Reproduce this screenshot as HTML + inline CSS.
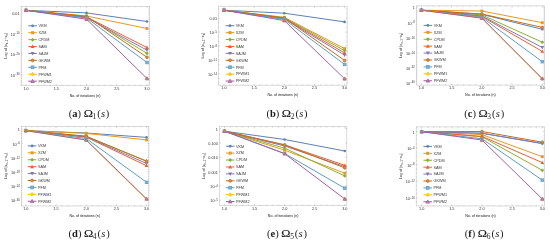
<!DOCTYPE html>
<html><head><meta charset="utf-8"><style>
html,body{margin:0;padding:0;background:#fff;}
svg{display:block;}
.tl{font-family:"Liberation Sans",sans-serif;font-size:3.8px;fill:#333333;}
.ex{font-size:2.8px;}
.al{font-family:"Liberation Sans",sans-serif;font-size:3.6px;fill:#111;}
.sb{font-size:2.7px;}
.yl{font-family:"Liberation Sans",sans-serif;font-size:3.8px;fill:#333333;}
.lg{font-family:"Liberation Sans",sans-serif;font-size:3.75px;fill:#383838;}
.cap{font-family:"Liberation Serif",serif;font-size:10.5px;fill:#1a1a1a;}
.om{font-size:10.5px;stroke:#1a1a1a;stroke-width:0.18px;}
.cs{font-size:7.5px;}
</style></head><body>
<svg width="550" height="245" viewBox="0 0 550 245">
<rect width="550" height="245" fill="#fff"/>
<rect x="21.10" y="6.30" width="128.30" height="79.10" fill="none" stroke="#c4c4c4" stroke-width="0.6"/>
<path d="M26.10,85.40v-1.6M26.10,6.30v1.6M32.15,85.40v-0.9M32.15,6.30v0.9M38.19,85.40v-0.9M38.19,6.30v0.9M44.24,85.40v-0.9M44.24,6.30v0.9M50.28,85.40v-0.9M50.28,6.30v0.9M56.33,85.40v-1.6M56.33,6.30v1.6M62.37,85.40v-0.9M62.37,6.30v0.9M68.42,85.40v-0.9M68.42,6.30v0.9M74.46,85.40v-0.9M74.46,6.30v0.9M80.50,85.40v-0.9M80.50,6.30v0.9M86.55,85.40v-1.6M86.55,6.30v1.6M92.59,85.40v-0.9M92.59,6.30v0.9M98.64,85.40v-0.9M98.64,6.30v0.9M104.69,85.40v-0.9M104.69,6.30v0.9M110.73,85.40v-0.9M110.73,6.30v0.9M116.78,85.40v-1.6M116.78,6.30v1.6M122.82,85.40v-0.9M122.82,6.30v0.9M128.87,85.40v-0.9M128.87,6.30v0.9M134.91,85.40v-0.9M134.91,6.30v0.9M140.96,85.40v-0.9M140.96,6.30v0.9M147.00,85.40v-1.6M147.00,6.30v1.6M21.10,6.75h0.9M149.40,6.75h-0.9M21.10,8.80h0.9M149.40,8.80h-0.9M21.10,10.85h0.9M149.40,10.85h-0.9M21.10,12.90h1.6M149.40,12.90h-1.6M21.10,14.95h0.9M149.40,14.95h-0.9M21.10,17.00h0.9M149.40,17.00h-0.9M21.10,19.05h0.9M149.40,19.05h-0.9M21.10,21.10h0.9M149.40,21.10h-0.9M21.10,23.15h0.9M149.40,23.15h-0.9M21.10,25.20h0.9M149.40,25.20h-0.9M21.10,27.25h0.9M149.40,27.25h-0.9M21.10,29.30h0.9M149.40,29.30h-0.9M21.10,31.35h0.9M149.40,31.35h-0.9M21.10,33.40h1.6M149.40,33.40h-1.6M21.10,35.45h0.9M149.40,35.45h-0.9M21.10,37.50h0.9M149.40,37.50h-0.9M21.10,39.55h0.9M149.40,39.55h-0.9M21.10,41.60h0.9M149.40,41.60h-0.9M21.10,43.65h0.9M149.40,43.65h-0.9M21.10,45.70h0.9M149.40,45.70h-0.9M21.10,47.75h0.9M149.40,47.75h-0.9M21.10,49.80h0.9M149.40,49.80h-0.9M21.10,51.85h0.9M149.40,51.85h-0.9M21.10,53.90h1.6M149.40,53.90h-1.6M21.10,55.95h0.9M149.40,55.95h-0.9M21.10,58.00h0.9M149.40,58.00h-0.9M21.10,60.05h0.9M149.40,60.05h-0.9M21.10,62.10h0.9M149.40,62.10h-0.9M21.10,64.15h0.9M149.40,64.15h-0.9M21.10,66.20h0.9M149.40,66.20h-0.9M21.10,68.25h0.9M149.40,68.25h-0.9M21.10,70.30h0.9M149.40,70.30h-0.9M21.10,72.35h0.9M149.40,72.35h-0.9M21.10,74.40h1.6M149.40,74.40h-1.6M21.10,76.45h0.9M149.40,76.45h-0.9M21.10,78.50h0.9M149.40,78.50h-0.9M21.10,80.55h0.9M149.40,80.55h-0.9M21.10,82.60h0.9M149.40,82.60h-0.9M21.10,84.65h0.9M149.40,84.65h-0.9" stroke="#a8a8a8" stroke-width="0.5" fill="none"/>
<text x="26.10" y="89.60" class="tl" text-anchor="middle">1.0</text>
<text x="56.33" y="89.60" class="tl" text-anchor="middle">1.5</text>
<text x="86.55" y="89.60" class="tl" text-anchor="middle">2.0</text>
<text x="116.78" y="89.60" class="tl" text-anchor="middle">2.5</text>
<text x="147.00" y="89.60" class="tl" text-anchor="middle">3.0</text>
<text x="85.05" y="96.60" class="al" text-anchor="middle">No. of iterations (n)</text>
<text x="19.60" y="15.00" class="tl" text-anchor="end">0.01</text>
<text x="19.60" y="35.70" class="tl" text-anchor="end">10<tspan class="ex" dy="-1.4">&#8722;10</tspan></text>
<text x="19.60" y="56.20" class="tl" text-anchor="end">10<tspan class="ex" dy="-1.4">&#8722;20</tspan></text>
<text x="19.60" y="76.70" class="tl" text-anchor="end">10<tspan class="ex" dy="-1.4">&#8722;30</tspan></text>
<text transform="translate(6.70,45.85) rotate(-90)" class="yl" text-anchor="middle">Log of |x<tspan class="sb" dy="0.9">n+1</tspan><tspan dy="-0.9">&#8722;x</tspan><tspan class="sb" dy="0.9">n</tspan><tspan dy="-0.9">|</tspan></text>
<path d="M26.10,10.30 L86.55,12.90 L147.00,21.50" stroke="#5E81B5" stroke-width="1.0" fill="none" stroke-linejoin="round"/>
<path d="M26.10,10.30 L86.55,16.00 L147.00,28.50" stroke="#E19C24" stroke-width="1.0" fill="none" stroke-linejoin="round"/>
<path d="M26.10,10.30 L86.55,17.00 L147.00,53.30" stroke="#8FB032" stroke-width="1.0" fill="none" stroke-linejoin="round"/>
<path d="M26.10,10.30 L86.55,17.00 L147.00,47.50" stroke="#EB6235" stroke-width="1.0" fill="none" stroke-linejoin="round"/>
<path d="M26.10,10.30 L86.55,17.60 L147.00,50.20" stroke="#8778B3" stroke-width="1.0" fill="none" stroke-linejoin="round"/>
<path d="M26.10,10.30 L86.55,16.30 L147.00,57.30" stroke="#C56E1A" stroke-width="1.0" fill="none" stroke-linejoin="round"/>
<path d="M26.10,10.30 L86.55,18.00 L147.00,62.50" stroke="#5D9EC7" stroke-width="1.0" fill="none" stroke-linejoin="round"/>
<path d="M26.10,10.30 L86.55,19.20 L147.00,78.50" stroke="#A5609D" stroke-width="1.0" fill="none" stroke-linejoin="round"/>
<circle cx="26.10" cy="10.30" r="1.30" fill="#5E81B5" stroke="none" stroke-width="0.00"/>
<circle cx="86.55" cy="12.90" r="1.30" fill="#5E81B5" stroke="none" stroke-width="0.00"/>
<circle cx="147.00" cy="21.50" r="1.30" fill="#5E81B5" stroke="none" stroke-width="0.00"/>
<rect x="24.65" y="8.85" width="2.90" height="2.90" fill="#E19C24" stroke="none" stroke-width="0.00"/>
<rect x="85.10" y="14.55" width="2.90" height="2.90" fill="#E19C24" stroke="none" stroke-width="0.00"/>
<rect x="145.55" y="27.05" width="2.90" height="2.90" fill="#E19C24" stroke="none" stroke-width="0.00"/>
<polygon points="26.10,8.40 28.00,10.30 26.10,12.20 24.20,10.30" fill="#8FB032" stroke="none" stroke-width="0.00"/>
<polygon points="86.55,15.10 88.45,17.00 86.55,18.90 84.65,17.00" fill="#8FB032" stroke="none" stroke-width="0.00"/>
<polygon points="147.00,51.40 148.90,53.30 147.00,55.20 145.10,53.30" fill="#8FB032" stroke="none" stroke-width="0.00"/>
<polygon points="26.10,8.40 28.00,11.73 24.20,11.73" fill="#EB6235" stroke="none" stroke-width="0.00"/>
<polygon points="86.55,15.10 88.45,18.43 84.65,18.43" fill="#EB6235" stroke="none" stroke-width="0.00"/>
<polygon points="147.00,45.60 148.90,48.92 145.10,48.92" fill="#EB6235" stroke="none" stroke-width="0.00"/>
<polygon points="26.10,12.20 28.00,8.88 24.20,8.88" fill="#8778B3" stroke="none" stroke-width="0.00"/>
<polygon points="86.55,19.50 88.45,16.18 84.65,16.18" fill="#8778B3" stroke="none" stroke-width="0.00"/>
<polygon points="147.00,52.10 148.90,48.78 145.10,48.78" fill="#8778B3" stroke="none" stroke-width="0.00"/>
<circle cx="26.10" cy="10.30" r="1.35" fill="#d39253" stroke="#C56E1A" stroke-width="0.80"/>
<circle cx="86.55" cy="16.30" r="1.35" fill="#d39253" stroke="#C56E1A" stroke-width="0.80"/>
<circle cx="147.00" cy="57.30" r="1.35" fill="#d39253" stroke="#C56E1A" stroke-width="0.80"/>
<rect x="24.80" y="9.00" width="2.60" height="2.60" fill="#85b6d5" stroke="#5D9EC7" stroke-width="0.80"/>
<rect x="85.25" y="16.70" width="2.60" height="2.60" fill="#85b6d5" stroke="#5D9EC7" stroke-width="0.80"/>
<rect x="145.70" y="61.20" width="2.60" height="2.60" fill="#85b6d5" stroke="#5D9EC7" stroke-width="0.80"/>
<polygon points="26.10,8.60 27.80,10.30 26.10,12.00 24.40,10.30" fill="#ffcf3f" stroke="#FFBF00" stroke-width="0.80"/>
<polygon points="86.55,17.50 88.25,19.20 86.55,20.90 84.85,19.20" fill="#ffcf3f" stroke="#FFBF00" stroke-width="0.80"/>
<polygon points="147.00,76.80 148.70,78.50 147.00,80.20 145.30,78.50" fill="#ffcf3f" stroke="#FFBF00" stroke-width="0.80"/>
<polygon points="26.10,8.60 27.80,11.58 24.40,11.58" fill="#bb87b5" stroke="#A5609D" stroke-width="0.80"/>
<polygon points="86.55,17.50 88.25,20.47 84.85,20.47" fill="#bb87b5" stroke="#A5609D" stroke-width="0.80"/>
<polygon points="147.00,76.80 148.70,79.78 145.30,79.78" fill="#bb87b5" stroke="#A5609D" stroke-width="0.80"/>
<path d="M28.30,25.80h8.6" stroke="#5E81B5" stroke-width="1"/>
<circle cx="32.60" cy="25.80" r="1.37" fill="#5E81B5" stroke="none" stroke-width="0.00"/>
<text x="38.40" y="27.15" class="lg">VKM</text>
<path d="M28.30,32.72h8.6" stroke="#E19C24" stroke-width="1"/>
<rect x="31.08" y="31.20" width="3.04" height="3.04" fill="#E19C24" stroke="none" stroke-width="0.00"/>
<text x="38.40" y="34.07" class="lg">XZM</text>
<path d="M28.30,39.64h8.6" stroke="#8FB032" stroke-width="1"/>
<polygon points="32.60,37.65 34.59,39.64 32.60,41.63 30.61,39.64" fill="#8FB032" stroke="none" stroke-width="0.00"/>
<text x="38.40" y="40.99" class="lg">CPDM</text>
<path d="M28.30,46.56h8.6" stroke="#EB6235" stroke-width="1"/>
<polygon points="32.60,44.57 34.59,48.06 30.61,48.06" fill="#EB6235" stroke="none" stroke-width="0.00"/>
<text x="38.40" y="47.91" class="lg">SAM</text>
<path d="M28.30,53.48h8.6" stroke="#8778B3" stroke-width="1"/>
<polygon points="32.60,55.48 34.59,51.98 30.61,51.98" fill="#8778B3" stroke="none" stroke-width="0.00"/>
<text x="38.40" y="54.83" class="lg">SAJM</text>
<path d="M28.30,60.40h8.6" stroke="#C56E1A" stroke-width="1"/>
<circle cx="32.60" cy="60.40" r="1.42" fill="#d39253" stroke="#C56E1A" stroke-width="0.84"/>
<text x="38.40" y="61.75" class="lg">GKWM</text>
<path d="M28.30,67.32h8.6" stroke="#5D9EC7" stroke-width="1"/>
<rect x="31.23" y="65.95" width="2.73" height="2.73" fill="#85b6d5" stroke="#5D9EC7" stroke-width="0.84"/>
<text x="38.40" y="68.67" class="lg">PFM</text>
<path d="M28.30,74.24h8.6" stroke="#FFBF00" stroke-width="1"/>
<polygon points="32.60,72.45 34.38,74.24 32.60,76.02 30.82,74.24" fill="#ffcf3f" stroke="#FFBF00" stroke-width="0.84"/>
<text x="38.40" y="75.59" class="lg">PFWM1</text>
<path d="M28.30,81.16h8.6" stroke="#A5609D" stroke-width="1"/>
<polygon points="32.60,79.38 34.38,82.50 30.82,82.50" fill="#bb87b5" stroke="#A5609D" stroke-width="0.84"/>
<text x="38.40" y="82.51" class="lg">PFWM2</text>
<g class="cap"><text x="68.85" y="117.20">(<tspan font-weight="bold">a</tspan>)</text><text transform="translate(83.65,117.20) scale(1.18,1)" class="om">&#937;</text><text x="92.55" y="118.80" class="cs">1</text><text x="97.25" y="117.20">(</text><text x="100.95" y="117.20" font-style="italic">s</text><text x="105.85" y="117.20">)</text></g>
<rect x="218.50" y="6.20" width="128.60" height="79.00" fill="none" stroke="#c4c4c4" stroke-width="0.6"/>
<path d="M224.00,85.20v-1.6M224.00,6.20v1.6M230.03,85.20v-0.9M230.03,6.20v0.9M236.06,85.20v-0.9M236.06,6.20v0.9M242.09,85.20v-0.9M242.09,6.20v0.9M248.12,85.20v-0.9M248.12,6.20v0.9M254.15,85.20v-1.6M254.15,6.20v1.6M260.18,85.20v-0.9M260.18,6.20v0.9M266.21,85.20v-0.9M266.21,6.20v0.9M272.24,85.20v-0.9M272.24,6.20v0.9M278.27,85.20v-0.9M278.27,6.20v0.9M284.30,85.20v-1.6M284.30,6.20v1.6M290.33,85.20v-0.9M290.33,6.20v0.9M296.36,85.20v-0.9M296.36,6.20v0.9M302.39,85.20v-0.9M302.39,6.20v0.9M308.42,85.20v-0.9M308.42,6.20v0.9M314.45,85.20v-1.6M314.45,6.20v1.6M320.48,85.20v-0.9M320.48,6.20v0.9M326.51,85.20v-0.9M326.51,6.20v0.9M332.54,85.20v-0.9M332.54,6.20v0.9M338.57,85.20v-0.9M338.57,6.20v0.9M344.60,85.20v-1.6M344.60,6.20v1.6M218.50,8.93h0.9M347.10,8.93h-0.9M218.50,13.57h0.9M347.10,13.57h-0.9M218.50,18.20h1.6M347.10,18.20h-1.6M218.50,22.83h0.9M347.10,22.83h-0.9M218.50,27.47h0.9M347.10,27.47h-0.9M218.50,32.10h1.6M347.10,32.10h-1.6M218.50,36.73h0.9M347.10,36.73h-0.9M218.50,41.37h0.9M347.10,41.37h-0.9M218.50,46.00h1.6M347.10,46.00h-1.6M218.50,50.63h0.9M347.10,50.63h-0.9M218.50,55.27h0.9M347.10,55.27h-0.9M218.50,59.90h1.6M347.10,59.90h-1.6M218.50,64.53h0.9M347.10,64.53h-0.9M218.50,69.17h0.9M347.10,69.17h-0.9M218.50,73.80h1.6M347.10,73.80h-1.6M218.50,78.43h0.9M347.10,78.43h-0.9M218.50,83.07h0.9M347.10,83.07h-0.9" stroke="#a8a8a8" stroke-width="0.5" fill="none"/>
<text x="224.00" y="89.40" class="tl" text-anchor="middle">1.0</text>
<text x="254.15" y="89.40" class="tl" text-anchor="middle">1.5</text>
<text x="284.30" y="89.40" class="tl" text-anchor="middle">2.0</text>
<text x="314.45" y="89.40" class="tl" text-anchor="middle">2.5</text>
<text x="344.60" y="89.40" class="tl" text-anchor="middle">3.0</text>
<text x="282.80" y="96.40" class="al" text-anchor="middle">No. of iterations (n)</text>
<text x="217.00" y="20.30" class="tl" text-anchor="end">0.01</text>
<text x="217.00" y="34.10" class="tl" text-anchor="end">10<tspan class="ex" dy="-1.4">&#8722;5</tspan></text>
<text x="217.00" y="48.00" class="tl" text-anchor="end">10<tspan class="ex" dy="-1.4">&#8722;8</tspan></text>
<text x="217.00" y="62.00" class="tl" text-anchor="end">10<tspan class="ex" dy="-1.4">&#8722;11</tspan></text>
<text x="217.00" y="75.90" class="tl" text-anchor="end">10<tspan class="ex" dy="-1.4">&#8722;14</tspan></text>
<text transform="translate(204.10,45.70) rotate(-90)" class="yl" text-anchor="middle">Log of |x<tspan class="sb" dy="0.9">n+1</tspan><tspan dy="-0.9">&#8722;x</tspan><tspan class="sb" dy="0.9">n</tspan><tspan dy="-0.9">|</tspan></text>
<path d="M224.00,10.20 L284.30,13.20 L344.60,21.90" stroke="#5E81B5" stroke-width="1.0" fill="none" stroke-linejoin="round"/>
<path d="M224.00,10.20 L284.30,17.30 L344.60,48.60" stroke="#E19C24" stroke-width="1.0" fill="none" stroke-linejoin="round"/>
<path d="M224.00,10.20 L284.30,17.80 L344.60,50.60" stroke="#8FB032" stroke-width="1.0" fill="none" stroke-linejoin="round"/>
<path d="M224.00,10.20 L284.30,18.30 L344.60,52.90" stroke="#EB6235" stroke-width="1.0" fill="none" stroke-linejoin="round"/>
<path d="M224.00,10.20 L284.30,18.80 L344.60,55.10" stroke="#8778B3" stroke-width="1.0" fill="none" stroke-linejoin="round"/>
<path d="M224.00,10.20 L284.30,18.00 L344.60,60.40" stroke="#C56E1A" stroke-width="1.0" fill="none" stroke-linejoin="round"/>
<path d="M224.00,10.20 L284.30,19.50 L344.60,64.40" stroke="#5D9EC7" stroke-width="1.0" fill="none" stroke-linejoin="round"/>
<path d="M224.00,10.20 L284.30,20.60 L344.60,78.80" stroke="#A5609D" stroke-width="1.0" fill="none" stroke-linejoin="round"/>
<circle cx="224.00" cy="10.20" r="1.30" fill="#5E81B5" stroke="none" stroke-width="0.00"/>
<circle cx="284.30" cy="13.20" r="1.30" fill="#5E81B5" stroke="none" stroke-width="0.00"/>
<circle cx="344.60" cy="21.90" r="1.30" fill="#5E81B5" stroke="none" stroke-width="0.00"/>
<rect x="222.55" y="8.75" width="2.90" height="2.90" fill="#E19C24" stroke="none" stroke-width="0.00"/>
<rect x="282.85" y="15.85" width="2.90" height="2.90" fill="#E19C24" stroke="none" stroke-width="0.00"/>
<rect x="343.15" y="47.15" width="2.90" height="2.90" fill="#E19C24" stroke="none" stroke-width="0.00"/>
<polygon points="224.00,8.30 225.90,10.20 224.00,12.10 222.10,10.20" fill="#8FB032" stroke="none" stroke-width="0.00"/>
<polygon points="284.30,15.90 286.20,17.80 284.30,19.70 282.40,17.80" fill="#8FB032" stroke="none" stroke-width="0.00"/>
<polygon points="344.60,48.70 346.50,50.60 344.60,52.50 342.70,50.60" fill="#8FB032" stroke="none" stroke-width="0.00"/>
<polygon points="224.00,8.30 225.90,11.62 222.10,11.62" fill="#EB6235" stroke="none" stroke-width="0.00"/>
<polygon points="284.30,16.40 286.20,19.73 282.40,19.73" fill="#EB6235" stroke="none" stroke-width="0.00"/>
<polygon points="344.60,51.00 346.50,54.32 342.70,54.32" fill="#EB6235" stroke="none" stroke-width="0.00"/>
<polygon points="224.00,12.10 225.90,8.77 222.10,8.77" fill="#8778B3" stroke="none" stroke-width="0.00"/>
<polygon points="284.30,20.70 286.20,17.38 282.40,17.38" fill="#8778B3" stroke="none" stroke-width="0.00"/>
<polygon points="344.60,57.00 346.50,53.68 342.70,53.68" fill="#8778B3" stroke="none" stroke-width="0.00"/>
<circle cx="224.00" cy="10.20" r="1.35" fill="#d39253" stroke="#C56E1A" stroke-width="0.80"/>
<circle cx="284.30" cy="18.00" r="1.35" fill="#d39253" stroke="#C56E1A" stroke-width="0.80"/>
<circle cx="344.60" cy="60.40" r="1.35" fill="#d39253" stroke="#C56E1A" stroke-width="0.80"/>
<rect x="222.70" y="8.90" width="2.60" height="2.60" fill="#85b6d5" stroke="#5D9EC7" stroke-width="0.80"/>
<rect x="283.00" y="18.20" width="2.60" height="2.60" fill="#85b6d5" stroke="#5D9EC7" stroke-width="0.80"/>
<rect x="343.30" y="63.10" width="2.60" height="2.60" fill="#85b6d5" stroke="#5D9EC7" stroke-width="0.80"/>
<polygon points="224.00,8.50 225.70,10.20 224.00,11.90 222.30,10.20" fill="#ffcf3f" stroke="#FFBF00" stroke-width="0.80"/>
<polygon points="284.30,18.90 286.00,20.60 284.30,22.30 282.60,20.60" fill="#ffcf3f" stroke="#FFBF00" stroke-width="0.80"/>
<polygon points="344.60,77.10 346.30,78.80 344.60,80.50 342.90,78.80" fill="#ffcf3f" stroke="#FFBF00" stroke-width="0.80"/>
<polygon points="224.00,8.50 225.70,11.47 222.30,11.47" fill="#bb87b5" stroke="#A5609D" stroke-width="0.80"/>
<polygon points="284.30,18.90 286.00,21.88 282.60,21.88" fill="#bb87b5" stroke="#A5609D" stroke-width="0.80"/>
<polygon points="344.60,77.10 346.30,80.08 342.90,80.08" fill="#bb87b5" stroke="#A5609D" stroke-width="0.80"/>
<path d="M225.70,25.70h8.6" stroke="#5E81B5" stroke-width="1"/>
<circle cx="230.00" cy="25.70" r="1.37" fill="#5E81B5" stroke="none" stroke-width="0.00"/>
<text x="235.80" y="27.05" class="lg">VKM</text>
<path d="M225.70,32.62h8.6" stroke="#E19C24" stroke-width="1"/>
<rect x="228.48" y="31.10" width="3.04" height="3.04" fill="#E19C24" stroke="none" stroke-width="0.00"/>
<text x="235.80" y="33.97" class="lg">XZM</text>
<path d="M225.70,39.54h8.6" stroke="#8FB032" stroke-width="1"/>
<polygon points="230.00,37.55 232.00,39.54 230.00,41.53 228.00,39.54" fill="#8FB032" stroke="none" stroke-width="0.00"/>
<text x="235.80" y="40.89" class="lg">CPDM</text>
<path d="M225.70,46.46h8.6" stroke="#EB6235" stroke-width="1"/>
<polygon points="230.00,44.46 232.00,47.96 228.00,47.96" fill="#EB6235" stroke="none" stroke-width="0.00"/>
<text x="235.80" y="47.81" class="lg">SAM</text>
<path d="M225.70,53.38h8.6" stroke="#8778B3" stroke-width="1"/>
<polygon points="230.00,55.37 232.00,51.88 228.00,51.88" fill="#8778B3" stroke="none" stroke-width="0.00"/>
<text x="235.80" y="54.73" class="lg">SAJM</text>
<path d="M225.70,60.30h8.6" stroke="#C56E1A" stroke-width="1"/>
<circle cx="230.00" cy="60.30" r="1.42" fill="#d39253" stroke="#C56E1A" stroke-width="0.84"/>
<text x="235.80" y="61.65" class="lg">GKWM</text>
<path d="M225.70,67.22h8.6" stroke="#5D9EC7" stroke-width="1"/>
<rect x="228.63" y="65.86" width="2.73" height="2.73" fill="#85b6d5" stroke="#5D9EC7" stroke-width="0.84"/>
<text x="235.80" y="68.57" class="lg">PFM</text>
<path d="M225.70,74.14h8.6" stroke="#FFBF00" stroke-width="1"/>
<polygon points="230.00,72.36 231.78,74.14 230.00,75.92 228.22,74.14" fill="#ffcf3f" stroke="#FFBF00" stroke-width="0.84"/>
<text x="235.80" y="75.49" class="lg">PFWM1</text>
<path d="M225.70,81.06h8.6" stroke="#A5609D" stroke-width="1"/>
<polygon points="230.00,79.28 231.78,82.40 228.22,82.40" fill="#bb87b5" stroke="#A5609D" stroke-width="0.84"/>
<text x="235.80" y="82.41" class="lg">PFWM2</text>
<g class="cap"><text x="266.45" y="117.20">(<tspan font-weight="bold">b</tspan>)</text><text transform="translate(281.85,117.20) scale(1.18,1)" class="om">&#937;</text><text x="290.75" y="118.80" class="cs">2</text><text x="295.45" y="117.20">(</text><text x="299.15" y="117.20" font-style="italic">s</text><text x="304.05" y="117.20">)</text></g>
<rect x="416.40" y="5.90" width="128.00" height="79.20" fill="none" stroke="#c4c4c4" stroke-width="0.6"/>
<path d="M421.40,85.10v-1.6M421.40,5.90v1.6M427.44,85.10v-0.9M427.44,5.90v0.9M433.49,85.10v-0.9M433.49,5.90v0.9M439.53,85.10v-0.9M439.53,5.90v0.9M445.58,85.10v-0.9M445.58,5.90v0.9M451.62,85.10v-1.6M451.62,5.90v1.6M457.67,85.10v-0.9M457.67,5.90v0.9M463.71,85.10v-0.9M463.71,5.90v0.9M469.76,85.10v-0.9M469.76,5.90v0.9M475.80,85.10v-0.9M475.80,5.90v0.9M481.85,85.10v-1.6M481.85,5.90v1.6M487.89,85.10v-0.9M487.89,5.90v0.9M493.94,85.10v-0.9M493.94,5.90v0.9M499.98,85.10v-0.9M499.98,5.90v0.9M506.03,85.10v-0.9M506.03,5.90v0.9M512.07,85.10v-1.6M512.07,5.90v1.6M518.12,85.10v-0.9M518.12,5.90v0.9M524.16,85.10v-0.9M524.16,5.90v0.9M530.21,85.10v-0.9M530.21,5.90v0.9M536.25,85.10v-0.9M536.25,5.90v0.9M542.30,85.10v-1.6M542.30,5.90v1.6M416.40,7.00h1.6M544.40,7.00h-1.6M416.40,8.91h0.9M544.40,8.91h-0.9M416.40,10.82h0.9M544.40,10.82h-0.9M416.40,12.74h0.9M544.40,12.74h-0.9M416.40,14.65h0.9M544.40,14.65h-0.9M416.40,16.56h0.9M544.40,16.56h-0.9M416.40,18.48h0.9M544.40,18.48h-0.9M416.40,20.39h0.9M544.40,20.39h-0.9M416.40,22.30h0.9M544.40,22.30h-0.9M416.40,24.21h0.9M544.40,24.21h-0.9M416.40,26.13h0.9M544.40,26.13h-0.9M416.40,28.04h0.9M544.40,28.04h-0.9M416.40,29.95h0.9M544.40,29.95h-0.9M416.40,31.86h0.9M544.40,31.86h-0.9M416.40,33.78h0.9M544.40,33.78h-0.9M416.40,35.69h0.9M544.40,35.69h-0.9M416.40,37.60h0.9M544.40,37.60h-0.9M416.40,39.51h0.9M544.40,39.51h-0.9M416.40,41.43h0.9M544.40,41.43h-0.9M416.40,43.34h0.9M544.40,43.34h-0.9M416.40,45.25h0.9M544.40,45.25h-0.9M416.40,47.16h0.9M544.40,47.16h-0.9M416.40,49.08h0.9M544.40,49.08h-0.9M416.40,50.99h0.9M544.40,50.99h-0.9M416.40,52.90h1.6M544.40,52.90h-1.6M416.40,54.81h0.9M544.40,54.81h-0.9M416.40,56.73h0.9M544.40,56.73h-0.9M416.40,58.64h0.9M544.40,58.64h-0.9M416.40,60.55h0.9M544.40,60.55h-0.9M416.40,62.46h0.9M544.40,62.46h-0.9M416.40,64.38h0.9M544.40,64.38h-0.9M416.40,66.29h0.9M544.40,66.29h-0.9M416.40,68.20h0.9M544.40,68.20h-0.9M416.40,70.11h0.9M544.40,70.11h-0.9M416.40,72.03h0.9M544.40,72.03h-0.9M416.40,73.94h0.9M544.40,73.94h-0.9M416.40,75.85h0.9M544.40,75.85h-0.9M416.40,77.76h0.9M544.40,77.76h-0.9M416.40,79.67h0.9M544.40,79.67h-0.9M416.40,81.59h0.9M544.40,81.59h-0.9M416.40,83.50h0.9M544.40,83.50h-0.9" stroke="#a8a8a8" stroke-width="0.5" fill="none"/>
<text x="421.40" y="89.30" class="tl" text-anchor="middle">1.0</text>
<text x="451.62" y="89.30" class="tl" text-anchor="middle">1.5</text>
<text x="481.85" y="89.30" class="tl" text-anchor="middle">2.0</text>
<text x="512.07" y="89.30" class="tl" text-anchor="middle">2.5</text>
<text x="542.30" y="89.30" class="tl" text-anchor="middle">3.0</text>
<text x="480.35" y="96.30" class="al" text-anchor="middle">No. of iterations (n)</text>
<text x="414.90" y="9.10" class="tl" text-anchor="end">1</text>
<text x="414.90" y="24.80" class="tl" text-anchor="end">10<tspan class="ex" dy="-1.4">&#8722;8</tspan></text>
<text x="414.90" y="40.30" class="tl" text-anchor="end">10<tspan class="ex" dy="-1.4">&#8722;16</tspan></text>
<text x="414.90" y="55.10" class="tl" text-anchor="end">10<tspan class="ex" dy="-1.4">&#8722;24</tspan></text>
<text x="414.90" y="69.80" class="tl" text-anchor="end">10<tspan class="ex" dy="-1.4">&#8722;32</tspan></text>
<text x="414.90" y="84.50" class="tl" text-anchor="end">10<tspan class="ex" dy="-1.4">&#8722;40</tspan></text>
<text transform="translate(402.00,45.50) rotate(-90)" class="yl" text-anchor="middle">Log of |x<tspan class="sb" dy="0.9">n+1</tspan><tspan dy="-0.9">&#8722;x</tspan><tspan class="sb" dy="0.9">n</tspan><tspan dy="-0.9">|</tspan></text>
<path d="M421.40,10.20 L481.85,14.30 L542.30,29.30" stroke="#5E81B5" stroke-width="1.0" fill="none" stroke-linejoin="round"/>
<path d="M421.40,10.20 L481.85,11.00 L542.30,22.70" stroke="#E19C24" stroke-width="1.0" fill="none" stroke-linejoin="round"/>
<path d="M421.40,10.20 L481.85,14.90 L542.30,42.20" stroke="#8FB032" stroke-width="1.0" fill="none" stroke-linejoin="round"/>
<path d="M421.40,10.20 L481.85,16.50 L542.30,51.40" stroke="#EB6235" stroke-width="1.0" fill="none" stroke-linejoin="round"/>
<path d="M421.40,10.20 L481.85,16.00 L542.30,47.50" stroke="#8778B3" stroke-width="1.0" fill="none" stroke-linejoin="round"/>
<path d="M421.40,10.20 L481.85,14.00 L542.30,27.40" stroke="#C56E1A" stroke-width="1.0" fill="none" stroke-linejoin="round"/>
<path d="M421.40,10.20 L481.85,17.30 L542.30,61.70" stroke="#5D9EC7" stroke-width="1.0" fill="none" stroke-linejoin="round"/>
<path d="M421.40,10.20 L481.85,18.10 L542.30,79.10" stroke="#FFBF00" stroke-width="1.0" fill="none" stroke-linejoin="round"/>
<path d="M421.40,10.20 L481.85,18.10 L542.30,78.60" stroke="#A5609D" stroke-width="1.0" fill="none" stroke-linejoin="round"/>
<circle cx="421.40" cy="10.20" r="1.30" fill="#5E81B5" stroke="none" stroke-width="0.00"/>
<circle cx="481.85" cy="14.30" r="1.30" fill="#5E81B5" stroke="none" stroke-width="0.00"/>
<circle cx="542.30" cy="29.30" r="1.30" fill="#5E81B5" stroke="none" stroke-width="0.00"/>
<rect x="419.95" y="8.75" width="2.90" height="2.90" fill="#E19C24" stroke="none" stroke-width="0.00"/>
<rect x="480.40" y="9.55" width="2.90" height="2.90" fill="#E19C24" stroke="none" stroke-width="0.00"/>
<rect x="540.85" y="21.25" width="2.90" height="2.90" fill="#E19C24" stroke="none" stroke-width="0.00"/>
<polygon points="421.40,8.30 423.30,10.20 421.40,12.10 419.50,10.20" fill="#8FB032" stroke="none" stroke-width="0.00"/>
<polygon points="481.85,13.00 483.75,14.90 481.85,16.80 479.95,14.90" fill="#8FB032" stroke="none" stroke-width="0.00"/>
<polygon points="542.30,40.30 544.20,42.20 542.30,44.10 540.40,42.20" fill="#8FB032" stroke="none" stroke-width="0.00"/>
<polygon points="421.40,8.30 423.30,11.62 419.50,11.62" fill="#EB6235" stroke="none" stroke-width="0.00"/>
<polygon points="481.85,14.60 483.75,17.93 479.95,17.93" fill="#EB6235" stroke="none" stroke-width="0.00"/>
<polygon points="542.30,49.50 544.20,52.82 540.40,52.82" fill="#EB6235" stroke="none" stroke-width="0.00"/>
<polygon points="421.40,12.10 423.30,8.77 419.50,8.77" fill="#8778B3" stroke="none" stroke-width="0.00"/>
<polygon points="481.85,17.90 483.75,14.57 479.95,14.57" fill="#8778B3" stroke="none" stroke-width="0.00"/>
<polygon points="542.30,49.40 544.20,46.08 540.40,46.08" fill="#8778B3" stroke="none" stroke-width="0.00"/>
<circle cx="421.40" cy="10.20" r="1.35" fill="#d39253" stroke="#C56E1A" stroke-width="0.80"/>
<circle cx="481.85" cy="14.00" r="1.35" fill="#d39253" stroke="#C56E1A" stroke-width="0.80"/>
<circle cx="542.30" cy="27.40" r="1.35" fill="#d39253" stroke="#C56E1A" stroke-width="0.80"/>
<rect x="420.10" y="8.90" width="2.60" height="2.60" fill="#85b6d5" stroke="#5D9EC7" stroke-width="0.80"/>
<rect x="480.55" y="16.00" width="2.60" height="2.60" fill="#85b6d5" stroke="#5D9EC7" stroke-width="0.80"/>
<rect x="541.00" y="60.40" width="2.60" height="2.60" fill="#85b6d5" stroke="#5D9EC7" stroke-width="0.80"/>
<polygon points="421.40,8.50 423.10,10.20 421.40,11.90 419.70,10.20" fill="#ffcf3f" stroke="#FFBF00" stroke-width="0.80"/>
<polygon points="481.85,16.40 483.55,18.10 481.85,19.80 480.15,18.10" fill="#ffcf3f" stroke="#FFBF00" stroke-width="0.80"/>
<polygon points="542.30,76.90 544.00,78.60 542.30,80.30 540.60,78.60" fill="#ffcf3f" stroke="#FFBF00" stroke-width="0.80"/>
<polygon points="421.40,8.50 423.10,11.47 419.70,11.47" fill="#bb87b5" stroke="#A5609D" stroke-width="0.80"/>
<polygon points="481.85,16.40 483.55,19.38 480.15,19.38" fill="#bb87b5" stroke="#A5609D" stroke-width="0.80"/>
<polygon points="542.30,76.90 544.00,79.88 540.60,79.88" fill="#bb87b5" stroke="#A5609D" stroke-width="0.80"/>
<path d="M423.60,25.40h8.6" stroke="#5E81B5" stroke-width="1"/>
<circle cx="427.90" cy="25.40" r="1.37" fill="#5E81B5" stroke="none" stroke-width="0.00"/>
<text x="433.70" y="26.75" class="lg">VKM</text>
<path d="M423.60,32.32h8.6" stroke="#E19C24" stroke-width="1"/>
<rect x="426.38" y="30.80" width="3.04" height="3.04" fill="#E19C24" stroke="none" stroke-width="0.00"/>
<text x="433.70" y="33.67" class="lg">XZM</text>
<path d="M423.60,39.24h8.6" stroke="#8FB032" stroke-width="1"/>
<polygon points="427.90,37.24 429.89,39.24 427.90,41.23 425.90,39.24" fill="#8FB032" stroke="none" stroke-width="0.00"/>
<text x="433.70" y="40.59" class="lg">CPDM</text>
<path d="M423.60,46.16h8.6" stroke="#EB6235" stroke-width="1"/>
<polygon points="427.90,44.16 429.89,47.66 425.90,47.66" fill="#EB6235" stroke="none" stroke-width="0.00"/>
<text x="433.70" y="47.51" class="lg">SAM</text>
<path d="M423.60,53.08h8.6" stroke="#8778B3" stroke-width="1"/>
<polygon points="427.90,55.07 429.89,51.58 425.90,51.58" fill="#8778B3" stroke="none" stroke-width="0.00"/>
<text x="433.70" y="54.43" class="lg">SAJM</text>
<path d="M423.60,60.00h8.6" stroke="#C56E1A" stroke-width="1"/>
<circle cx="427.90" cy="60.00" r="1.42" fill="#d39253" stroke="#C56E1A" stroke-width="0.84"/>
<text x="433.70" y="61.35" class="lg">GKWM</text>
<path d="M423.60,66.92h8.6" stroke="#5D9EC7" stroke-width="1"/>
<rect x="426.53" y="65.55" width="2.73" height="2.73" fill="#85b6d5" stroke="#5D9EC7" stroke-width="0.84"/>
<text x="433.70" y="68.27" class="lg">PFM</text>
<path d="M423.60,73.84h8.6" stroke="#FFBF00" stroke-width="1"/>
<polygon points="427.90,72.06 429.69,73.84 427.90,75.62 426.11,73.84" fill="#ffcf3f" stroke="#FFBF00" stroke-width="0.84"/>
<text x="433.70" y="75.19" class="lg">PFWM1</text>
<path d="M423.60,80.76h8.6" stroke="#A5609D" stroke-width="1"/>
<polygon points="427.90,78.97 429.69,82.10 426.11,82.10" fill="#bb87b5" stroke="#A5609D" stroke-width="0.84"/>
<text x="433.70" y="82.11" class="lg">PFWM2</text>
<g class="cap"><text x="464.24" y="117.20">(<tspan font-weight="bold">c</tspan>)</text><text transform="translate(478.46,117.20) scale(1.18,1)" class="om">&#937;</text><text x="487.36" y="118.80" class="cs">3</text><text x="492.06" y="117.20">(</text><text x="495.76" y="117.20" font-style="italic">s</text><text x="500.66" y="117.20">)</text></g>
<rect x="21.40" y="126.40" width="127.50" height="79.60" fill="none" stroke="#c4c4c4" stroke-width="0.6"/>
<path d="M25.80,206.00v-1.6M25.80,126.40v1.6M31.84,206.00v-0.9M31.84,126.40v0.9M37.88,206.00v-0.9M37.88,126.40v0.9M43.92,206.00v-0.9M43.92,126.40v0.9M49.96,206.00v-0.9M49.96,126.40v0.9M56.00,206.00v-1.6M56.00,126.40v1.6M62.04,206.00v-0.9M62.04,126.40v0.9M68.08,206.00v-0.9M68.08,126.40v0.9M74.12,206.00v-0.9M74.12,126.40v0.9M80.16,206.00v-0.9M80.16,126.40v0.9M86.20,206.00v-1.6M86.20,126.40v1.6M92.24,206.00v-0.9M92.24,126.40v0.9M98.28,206.00v-0.9M98.28,126.40v0.9M104.32,206.00v-0.9M104.32,126.40v0.9M110.36,206.00v-0.9M110.36,126.40v0.9M116.40,206.00v-1.6M116.40,126.40v1.6M122.44,206.00v-0.9M122.44,126.40v0.9M128.48,206.00v-0.9M128.48,126.40v0.9M134.52,206.00v-0.9M134.52,126.40v0.9M140.56,206.00v-0.9M140.56,126.40v0.9M146.60,206.00v-1.6M146.60,126.40v1.6M21.40,126.73h0.9M148.90,126.73h-0.9M21.40,129.10h1.6M148.90,129.10h-1.6M21.40,131.47h0.9M148.90,131.47h-0.9M21.40,133.83h0.9M148.90,133.83h-0.9M21.40,136.20h0.9M148.90,136.20h-0.9M21.40,138.57h0.9M148.90,138.57h-0.9M21.40,140.93h0.9M148.90,140.93h-0.9M21.40,143.30h1.6M148.90,143.30h-1.6M21.40,145.67h0.9M148.90,145.67h-0.9M21.40,148.03h0.9M148.90,148.03h-0.9M21.40,150.40h0.9M148.90,150.40h-0.9M21.40,152.77h0.9M148.90,152.77h-0.9M21.40,155.13h0.9M148.90,155.13h-0.9M21.40,157.50h1.6M148.90,157.50h-1.6M21.40,159.87h0.9M148.90,159.87h-0.9M21.40,162.23h0.9M148.90,162.23h-0.9M21.40,164.60h0.9M148.90,164.60h-0.9M21.40,166.97h0.9M148.90,166.97h-0.9M21.40,169.33h0.9M148.90,169.33h-0.9M21.40,171.70h1.6M148.90,171.70h-1.6M21.40,174.07h0.9M148.90,174.07h-0.9M21.40,176.43h0.9M148.90,176.43h-0.9M21.40,178.80h0.9M148.90,178.80h-0.9M21.40,181.17h0.9M148.90,181.17h-0.9M21.40,183.53h0.9M148.90,183.53h-0.9M21.40,185.90h1.6M148.90,185.90h-1.6M21.40,188.27h0.9M148.90,188.27h-0.9M21.40,190.63h0.9M148.90,190.63h-0.9M21.40,193.00h0.9M148.90,193.00h-0.9M21.40,195.37h0.9M148.90,195.37h-0.9M21.40,197.73h0.9M148.90,197.73h-0.9M21.40,200.10h0.9M148.90,200.10h-0.9M21.40,202.47h0.9M148.90,202.47h-0.9M21.40,204.83h0.9M148.90,204.83h-0.9" stroke="#a8a8a8" stroke-width="0.5" fill="none"/>
<text x="25.80" y="210.20" class="tl" text-anchor="middle">1.0</text>
<text x="56.00" y="210.20" class="tl" text-anchor="middle">1.5</text>
<text x="86.20" y="210.20" class="tl" text-anchor="middle">2.0</text>
<text x="116.40" y="210.20" class="tl" text-anchor="middle">2.5</text>
<text x="146.60" y="210.20" class="tl" text-anchor="middle">3.0</text>
<text x="84.70" y="217.20" class="al" text-anchor="middle">No. of iterations (n)</text>
<text x="19.90" y="131.20" class="tl" text-anchor="end">1</text>
<text x="19.90" y="145.50" class="tl" text-anchor="end">10<tspan class="ex" dy="-1.4">&#8722;6</tspan></text>
<text x="19.90" y="159.90" class="tl" text-anchor="end">10<tspan class="ex" dy="-1.4">&#8722;12</tspan></text>
<text x="19.90" y="174.10" class="tl" text-anchor="end">10<tspan class="ex" dy="-1.4">&#8722;18</tspan></text>
<text x="19.90" y="187.90" class="tl" text-anchor="end">10<tspan class="ex" dy="-1.4">&#8722;24</tspan></text>
<text x="19.90" y="201.90" class="tl" text-anchor="end">10<tspan class="ex" dy="-1.4">&#8722;30</tspan></text>
<text transform="translate(7.00,166.20) rotate(-90)" class="yl" text-anchor="middle">Log of |x<tspan class="sb" dy="0.9">n+1</tspan><tspan dy="-0.9">&#8722;x</tspan><tspan class="sb" dy="0.9">n</tspan><tspan dy="-0.9">|</tspan></text>
<path d="M25.80,130.60 L86.20,133.00 L146.60,137.40" stroke="#5E81B5" stroke-width="1.0" fill="none" stroke-linejoin="round"/>
<path d="M25.80,130.60 L86.20,133.40 L146.60,139.90" stroke="#E19C24" stroke-width="1.0" fill="none" stroke-linejoin="round"/>
<path d="M25.80,130.60 L86.20,136.40 L146.60,161.00" stroke="#8FB032" stroke-width="1.0" fill="none" stroke-linejoin="round"/>
<path d="M25.80,130.60 L86.20,137.20 L146.60,165.70" stroke="#EB6235" stroke-width="1.0" fill="none" stroke-linejoin="round"/>
<path d="M25.80,130.60 L86.20,136.80 L146.60,163.50" stroke="#8778B3" stroke-width="1.0" fill="none" stroke-linejoin="round"/>
<path d="M25.80,130.60 L86.20,136.20 L146.60,161.30" stroke="#C56E1A" stroke-width="1.0" fill="none" stroke-linejoin="round"/>
<path d="M25.80,130.60 L86.20,138.50 L146.60,182.30" stroke="#5D9EC7" stroke-width="1.0" fill="none" stroke-linejoin="round"/>
<path d="M25.80,130.60 L86.20,140.00 L146.60,199.70" stroke="#FFBF00" stroke-width="1.0" fill="none" stroke-linejoin="round"/>
<path d="M25.80,130.60 L86.20,140.00 L146.60,198.90" stroke="#A5609D" stroke-width="1.0" fill="none" stroke-linejoin="round"/>
<circle cx="25.80" cy="130.60" r="1.30" fill="#5E81B5" stroke="none" stroke-width="0.00"/>
<circle cx="86.20" cy="133.00" r="1.30" fill="#5E81B5" stroke="none" stroke-width="0.00"/>
<circle cx="146.60" cy="137.40" r="1.30" fill="#5E81B5" stroke="none" stroke-width="0.00"/>
<rect x="24.35" y="129.15" width="2.90" height="2.90" fill="#E19C24" stroke="none" stroke-width="0.00"/>
<rect x="84.75" y="131.95" width="2.90" height="2.90" fill="#E19C24" stroke="none" stroke-width="0.00"/>
<rect x="145.15" y="138.45" width="2.90" height="2.90" fill="#E19C24" stroke="none" stroke-width="0.00"/>
<polygon points="25.80,128.70 27.70,130.60 25.80,132.50 23.90,130.60" fill="#8FB032" stroke="none" stroke-width="0.00"/>
<polygon points="86.20,134.50 88.10,136.40 86.20,138.30 84.30,136.40" fill="#8FB032" stroke="none" stroke-width="0.00"/>
<polygon points="146.60,159.10 148.50,161.00 146.60,162.90 144.70,161.00" fill="#8FB032" stroke="none" stroke-width="0.00"/>
<polygon points="25.80,128.70 27.70,132.03 23.90,132.03" fill="#EB6235" stroke="none" stroke-width="0.00"/>
<polygon points="86.20,135.30 88.10,138.62 84.30,138.62" fill="#EB6235" stroke="none" stroke-width="0.00"/>
<polygon points="146.60,163.80 148.50,167.12 144.70,167.12" fill="#EB6235" stroke="none" stroke-width="0.00"/>
<polygon points="25.80,132.50 27.70,129.17 23.90,129.17" fill="#8778B3" stroke="none" stroke-width="0.00"/>
<polygon points="86.20,138.70 88.10,135.38 84.30,135.38" fill="#8778B3" stroke="none" stroke-width="0.00"/>
<polygon points="146.60,165.40 148.50,162.07 144.70,162.07" fill="#8778B3" stroke="none" stroke-width="0.00"/>
<circle cx="25.80" cy="130.60" r="1.35" fill="#d39253" stroke="#C56E1A" stroke-width="0.80"/>
<circle cx="86.20" cy="136.20" r="1.35" fill="#d39253" stroke="#C56E1A" stroke-width="0.80"/>
<circle cx="146.60" cy="161.30" r="1.35" fill="#d39253" stroke="#C56E1A" stroke-width="0.80"/>
<rect x="24.50" y="129.30" width="2.60" height="2.60" fill="#85b6d5" stroke="#5D9EC7" stroke-width="0.80"/>
<rect x="84.90" y="137.20" width="2.60" height="2.60" fill="#85b6d5" stroke="#5D9EC7" stroke-width="0.80"/>
<rect x="145.30" y="181.00" width="2.60" height="2.60" fill="#85b6d5" stroke="#5D9EC7" stroke-width="0.80"/>
<polygon points="25.80,128.90 27.50,130.60 25.80,132.30 24.10,130.60" fill="#ffcf3f" stroke="#FFBF00" stroke-width="0.80"/>
<polygon points="86.20,138.30 87.90,140.00 86.20,141.70 84.50,140.00" fill="#ffcf3f" stroke="#FFBF00" stroke-width="0.80"/>
<polygon points="146.60,197.20 148.30,198.90 146.60,200.60 144.90,198.90" fill="#ffcf3f" stroke="#FFBF00" stroke-width="0.80"/>
<polygon points="25.80,128.90 27.50,131.88 24.10,131.88" fill="#bb87b5" stroke="#A5609D" stroke-width="0.80"/>
<polygon points="86.20,138.30 87.90,141.28 84.50,141.28" fill="#bb87b5" stroke="#A5609D" stroke-width="0.80"/>
<polygon points="146.60,197.20 148.30,200.18 144.90,200.18" fill="#bb87b5" stroke="#A5609D" stroke-width="0.80"/>
<path d="M27.80,145.90h8.6" stroke="#5E81B5" stroke-width="1"/>
<circle cx="32.10" cy="145.90" r="1.37" fill="#5E81B5" stroke="none" stroke-width="0.00"/>
<text x="37.90" y="147.25" class="lg">VKM</text>
<path d="M27.80,152.82h8.6" stroke="#E19C24" stroke-width="1"/>
<rect x="30.58" y="151.30" width="3.04" height="3.04" fill="#E19C24" stroke="none" stroke-width="0.00"/>
<text x="37.90" y="154.17" class="lg">XZM</text>
<path d="M27.80,159.74h8.6" stroke="#8FB032" stroke-width="1"/>
<polygon points="32.10,157.75 34.09,159.74 32.10,161.74 30.11,159.74" fill="#8FB032" stroke="none" stroke-width="0.00"/>
<text x="37.90" y="161.09" class="lg">CPDM</text>
<path d="M27.80,166.66h8.6" stroke="#EB6235" stroke-width="1"/>
<polygon points="32.10,164.66 34.09,168.16 30.11,168.16" fill="#EB6235" stroke="none" stroke-width="0.00"/>
<text x="37.90" y="168.01" class="lg">SAM</text>
<path d="M27.80,173.58h8.6" stroke="#8778B3" stroke-width="1"/>
<polygon points="32.10,175.58 34.09,172.08 30.11,172.08" fill="#8778B3" stroke="none" stroke-width="0.00"/>
<text x="37.90" y="174.93" class="lg">SAJM</text>
<path d="M27.80,180.50h8.6" stroke="#C56E1A" stroke-width="1"/>
<circle cx="32.10" cy="180.50" r="1.42" fill="#d39253" stroke="#C56E1A" stroke-width="0.84"/>
<text x="37.90" y="181.85" class="lg">GKWM</text>
<path d="M27.80,187.42h8.6" stroke="#5D9EC7" stroke-width="1"/>
<rect x="30.73" y="186.06" width="2.73" height="2.73" fill="#85b6d5" stroke="#5D9EC7" stroke-width="0.84"/>
<text x="37.90" y="188.77" class="lg">PFM</text>
<path d="M27.80,194.34h8.6" stroke="#FFBF00" stroke-width="1"/>
<polygon points="32.10,192.56 33.88,194.34 32.10,196.12 30.32,194.34" fill="#ffcf3f" stroke="#FFBF00" stroke-width="0.84"/>
<text x="37.90" y="195.69" class="lg">PFWM1</text>
<path d="M27.80,201.26h8.6" stroke="#A5609D" stroke-width="1"/>
<polygon points="32.10,199.47 33.88,202.60 30.32,202.60" fill="#bb87b5" stroke="#A5609D" stroke-width="0.84"/>
<text x="37.90" y="202.61" class="lg">PFWM2</text>
<g class="cap"><text x="68.55" y="237.40">(<tspan font-weight="bold">d</tspan>)</text><text transform="translate(83.95,237.40) scale(1.18,1)" class="om">&#937;</text><text x="92.85" y="239.00" class="cs">4</text><text x="97.55" y="237.40">(</text><text x="101.25" y="237.40" font-style="italic">s</text><text x="106.15" y="237.40">)</text></g>
<rect x="219.30" y="126.70" width="127.50" height="78.80" fill="none" stroke="#c4c4c4" stroke-width="0.6"/>
<path d="M224.50,205.50v-1.6M224.50,126.70v1.6M230.52,205.50v-0.9M230.52,126.70v0.9M236.53,205.50v-0.9M236.53,126.70v0.9M242.55,205.50v-0.9M242.55,126.70v0.9M248.56,205.50v-0.9M248.56,126.70v0.9M254.57,205.50v-1.6M254.57,126.70v1.6M260.59,205.50v-0.9M260.59,126.70v0.9M266.61,205.50v-0.9M266.61,126.70v0.9M272.62,205.50v-0.9M272.62,126.70v0.9M278.63,205.50v-0.9M278.63,126.70v0.9M284.65,205.50v-1.6M284.65,126.70v1.6M290.67,205.50v-0.9M290.67,126.70v0.9M296.68,205.50v-0.9M296.68,126.70v0.9M302.69,205.50v-0.9M302.69,126.70v0.9M308.71,205.50v-0.9M308.71,126.70v0.9M314.73,205.50v-1.6M314.73,126.70v1.6M320.74,205.50v-0.9M320.74,126.70v0.9M326.75,205.50v-0.9M326.75,126.70v0.9M332.77,205.50v-0.9M332.77,126.70v0.9M338.79,205.50v-0.9M338.79,126.70v0.9M344.80,205.50v-1.6M344.80,126.70v1.6M219.30,128.60h1.6M346.80,128.60h-1.6M219.30,142.90h1.6M346.80,142.90h-1.6M219.30,157.20h1.6M346.80,157.20h-1.6M219.30,171.50h1.6M346.80,171.50h-1.6M219.30,185.80h1.6M346.80,185.80h-1.6M219.30,200.10h1.6M346.80,200.10h-1.6" stroke="#a8a8a8" stroke-width="0.5" fill="none"/>
<text x="224.50" y="209.70" class="tl" text-anchor="middle">1.0</text>
<text x="254.57" y="209.70" class="tl" text-anchor="middle">1.5</text>
<text x="284.65" y="209.70" class="tl" text-anchor="middle">2.0</text>
<text x="314.73" y="209.70" class="tl" text-anchor="middle">2.5</text>
<text x="344.80" y="209.70" class="tl" text-anchor="middle">3.0</text>
<text x="283.15" y="216.70" class="al" text-anchor="middle">No. of iterations (n)</text>
<text x="217.80" y="130.70" class="tl" text-anchor="end">1</text>
<text x="217.80" y="145.00" class="tl" text-anchor="end">0.100</text>
<text x="217.80" y="159.30" class="tl" text-anchor="end">0.010</text>
<text x="217.80" y="173.70" class="tl" text-anchor="end">0.001</text>
<text x="217.80" y="188.00" class="tl" text-anchor="end">10<tspan class="ex" dy="-1.4">&#8722;4</tspan></text>
<text x="217.80" y="202.20" class="tl" text-anchor="end">10<tspan class="ex" dy="-1.4">&#8722;5</tspan></text>
<text transform="translate(204.90,166.10) rotate(-90)" class="yl" text-anchor="middle">Log of |x<tspan class="sb" dy="0.9">n+1</tspan><tspan dy="-0.9">&#8722;x</tspan><tspan class="sb" dy="0.9">n</tspan><tspan dy="-0.9">|</tspan></text>
<path d="M224.50,131.20 L284.65,139.50 L344.80,151.00" stroke="#5E81B5" stroke-width="1.0" fill="none" stroke-linejoin="round"/>
<path d="M224.50,131.20 L284.65,150.20 L344.80,173.20" stroke="#E19C24" stroke-width="1.0" fill="none" stroke-linejoin="round"/>
<path d="M224.50,131.20 L284.65,148.20 L344.80,175.90" stroke="#8FB032" stroke-width="1.0" fill="none" stroke-linejoin="round"/>
<path d="M224.50,131.20 L284.65,144.90 L344.80,165.30" stroke="#EB6235" stroke-width="1.0" fill="none" stroke-linejoin="round"/>
<path d="M224.50,131.20 L284.65,146.00 L344.80,166.70" stroke="#8778B3" stroke-width="1.0" fill="none" stroke-linejoin="round"/>
<path d="M224.50,131.20 L284.65,144.90 L344.80,167.90" stroke="#C56E1A" stroke-width="1.0" fill="none" stroke-linejoin="round"/>
<path d="M224.50,131.20 L284.65,153.50 L344.80,188.20" stroke="#5D9EC7" stroke-width="1.0" fill="none" stroke-linejoin="round"/>
<path d="M224.50,131.20 L284.65,153.70 L344.80,199.00" stroke="#A5609D" stroke-width="1.0" fill="none" stroke-linejoin="round"/>
<circle cx="224.50" cy="131.20" r="1.30" fill="#5E81B5" stroke="none" stroke-width="0.00"/>
<circle cx="284.65" cy="139.50" r="1.30" fill="#5E81B5" stroke="none" stroke-width="0.00"/>
<circle cx="344.80" cy="151.00" r="1.30" fill="#5E81B5" stroke="none" stroke-width="0.00"/>
<rect x="223.05" y="129.75" width="2.90" height="2.90" fill="#E19C24" stroke="none" stroke-width="0.00"/>
<rect x="283.20" y="148.75" width="2.90" height="2.90" fill="#E19C24" stroke="none" stroke-width="0.00"/>
<rect x="343.35" y="171.75" width="2.90" height="2.90" fill="#E19C24" stroke="none" stroke-width="0.00"/>
<polygon points="224.50,129.30 226.40,131.20 224.50,133.10 222.60,131.20" fill="#8FB032" stroke="none" stroke-width="0.00"/>
<polygon points="284.65,146.30 286.55,148.20 284.65,150.10 282.75,148.20" fill="#8FB032" stroke="none" stroke-width="0.00"/>
<polygon points="344.80,174.00 346.70,175.90 344.80,177.80 342.90,175.90" fill="#8FB032" stroke="none" stroke-width="0.00"/>
<polygon points="224.50,129.30 226.40,132.62 222.60,132.62" fill="#EB6235" stroke="none" stroke-width="0.00"/>
<polygon points="284.65,143.00 286.55,146.33 282.75,146.33" fill="#EB6235" stroke="none" stroke-width="0.00"/>
<polygon points="344.80,163.40 346.70,166.73 342.90,166.73" fill="#EB6235" stroke="none" stroke-width="0.00"/>
<polygon points="224.50,133.10 226.40,129.77 222.60,129.77" fill="#8778B3" stroke="none" stroke-width="0.00"/>
<polygon points="284.65,147.90 286.55,144.57 282.75,144.57" fill="#8778B3" stroke="none" stroke-width="0.00"/>
<polygon points="344.80,168.60 346.70,165.27 342.90,165.27" fill="#8778B3" stroke="none" stroke-width="0.00"/>
<circle cx="224.50" cy="131.20" r="1.35" fill="#d39253" stroke="#C56E1A" stroke-width="0.80"/>
<circle cx="284.65" cy="144.90" r="1.35" fill="#d39253" stroke="#C56E1A" stroke-width="0.80"/>
<circle cx="344.80" cy="167.90" r="1.35" fill="#d39253" stroke="#C56E1A" stroke-width="0.80"/>
<rect x="223.20" y="129.90" width="2.60" height="2.60" fill="#85b6d5" stroke="#5D9EC7" stroke-width="0.80"/>
<rect x="283.35" y="152.20" width="2.60" height="2.60" fill="#85b6d5" stroke="#5D9EC7" stroke-width="0.80"/>
<rect x="343.50" y="186.90" width="2.60" height="2.60" fill="#85b6d5" stroke="#5D9EC7" stroke-width="0.80"/>
<polygon points="224.50,129.50 226.20,131.20 224.50,132.90 222.80,131.20" fill="#ffcf3f" stroke="#FFBF00" stroke-width="0.80"/>
<polygon points="284.65,152.00 286.35,153.70 284.65,155.40 282.95,153.70" fill="#ffcf3f" stroke="#FFBF00" stroke-width="0.80"/>
<polygon points="344.80,197.30 346.50,199.00 344.80,200.70 343.10,199.00" fill="#ffcf3f" stroke="#FFBF00" stroke-width="0.80"/>
<polygon points="224.50,129.50 226.20,132.47 222.80,132.47" fill="#bb87b5" stroke="#A5609D" stroke-width="0.80"/>
<polygon points="284.65,152.00 286.35,154.97 282.95,154.97" fill="#bb87b5" stroke="#A5609D" stroke-width="0.80"/>
<polygon points="344.80,197.30 346.50,200.28 343.10,200.28" fill="#bb87b5" stroke="#A5609D" stroke-width="0.80"/>
<path d="M225.90,146.20h8.6" stroke="#5E81B5" stroke-width="1"/>
<circle cx="230.20" cy="146.20" r="1.37" fill="#5E81B5" stroke="none" stroke-width="0.00"/>
<text x="236.00" y="147.55" class="lg">VKM</text>
<path d="M225.90,153.12h8.6" stroke="#E19C24" stroke-width="1"/>
<rect x="228.68" y="151.60" width="3.04" height="3.04" fill="#E19C24" stroke="none" stroke-width="0.00"/>
<text x="236.00" y="154.47" class="lg">XZM</text>
<path d="M225.90,160.04h8.6" stroke="#8FB032" stroke-width="1"/>
<polygon points="230.20,158.04 232.20,160.04 230.20,162.03 228.21,160.04" fill="#8FB032" stroke="none" stroke-width="0.00"/>
<text x="236.00" y="161.39" class="lg">CPDM</text>
<path d="M225.90,166.96h8.6" stroke="#EB6235" stroke-width="1"/>
<polygon points="230.20,164.96 232.20,168.46 228.21,168.46" fill="#EB6235" stroke="none" stroke-width="0.00"/>
<text x="236.00" y="168.31" class="lg">SAM</text>
<path d="M225.90,173.88h8.6" stroke="#8778B3" stroke-width="1"/>
<polygon points="230.20,175.88 232.20,172.38 228.21,172.38" fill="#8778B3" stroke="none" stroke-width="0.00"/>
<text x="236.00" y="175.23" class="lg">SAJM</text>
<path d="M225.90,180.80h8.6" stroke="#C56E1A" stroke-width="1"/>
<circle cx="230.20" cy="180.80" r="1.42" fill="#d39253" stroke="#C56E1A" stroke-width="0.84"/>
<text x="236.00" y="182.15" class="lg">GKWM</text>
<path d="M225.90,187.72h8.6" stroke="#5D9EC7" stroke-width="1"/>
<rect x="228.84" y="186.35" width="2.73" height="2.73" fill="#85b6d5" stroke="#5D9EC7" stroke-width="0.84"/>
<text x="236.00" y="189.07" class="lg">PFM</text>
<path d="M225.90,194.64h8.6" stroke="#FFBF00" stroke-width="1"/>
<polygon points="230.20,192.85 231.99,194.64 230.20,196.42 228.42,194.64" fill="#ffcf3f" stroke="#FFBF00" stroke-width="0.84"/>
<text x="236.00" y="195.99" class="lg">PFWM1</text>
<path d="M225.90,201.56h8.6" stroke="#A5609D" stroke-width="1"/>
<polygon points="230.20,199.78 231.99,202.90 228.42,202.90" fill="#bb87b5" stroke="#A5609D" stroke-width="0.84"/>
<text x="236.00" y="202.91" class="lg">PFWM2</text>
<g class="cap"><text x="267.04" y="237.40">(<tspan font-weight="bold">e</tspan>)</text><text transform="translate(281.26,237.40) scale(1.18,1)" class="om">&#937;</text><text x="290.16" y="239.00" class="cs">5</text><text x="294.86" y="237.40">(</text><text x="298.56" y="237.40" font-style="italic">s</text><text x="303.46" y="237.40">)</text></g>
<rect x="416.20" y="126.90" width="128.20" height="79.10" fill="none" stroke="#c4c4c4" stroke-width="0.6"/>
<path d="M421.70,206.00v-1.6M421.70,126.90v1.6M427.73,206.00v-0.9M427.73,126.90v0.9M433.76,206.00v-0.9M433.76,126.90v0.9M439.79,206.00v-0.9M439.79,126.90v0.9M445.82,206.00v-0.9M445.82,126.90v0.9M451.85,206.00v-1.6M451.85,126.90v1.6M457.88,206.00v-0.9M457.88,126.90v0.9M463.91,206.00v-0.9M463.91,126.90v0.9M469.94,206.00v-0.9M469.94,126.90v0.9M475.97,206.00v-0.9M475.97,126.90v0.9M482.00,206.00v-1.6M482.00,126.90v1.6M488.03,206.00v-0.9M488.03,126.90v0.9M494.06,206.00v-0.9M494.06,126.90v0.9M500.09,206.00v-0.9M500.09,126.90v0.9M506.12,206.00v-0.9M506.12,126.90v0.9M512.15,206.00v-1.6M512.15,126.90v1.6M518.18,206.00v-0.9M518.18,126.90v0.9M524.21,206.00v-0.9M524.21,126.90v0.9M530.24,206.00v-0.9M530.24,126.90v0.9M536.27,206.00v-0.9M536.27,126.90v0.9M542.30,206.00v-1.6M542.30,126.90v1.6M416.20,127.25h0.9M544.40,127.25h-0.9M416.20,131.40h1.6M544.40,131.40h-1.6M416.20,135.55h0.9M544.40,135.55h-0.9M416.20,139.70h0.9M544.40,139.70h-0.9M416.20,143.85h0.9M544.40,143.85h-0.9M416.20,148.00h1.6M544.40,148.00h-1.6M416.20,152.15h0.9M544.40,152.15h-0.9M416.20,156.30h0.9M544.40,156.30h-0.9M416.20,160.45h0.9M544.40,160.45h-0.9M416.20,164.60h1.6M544.40,164.60h-1.6M416.20,168.75h0.9M544.40,168.75h-0.9M416.20,172.90h0.9M544.40,172.90h-0.9M416.20,177.05h0.9M544.40,177.05h-0.9M416.20,181.20h1.6M544.40,181.20h-1.6M416.20,185.35h0.9M544.40,185.35h-0.9M416.20,189.50h0.9M544.40,189.50h-0.9M416.20,193.65h0.9M544.40,193.65h-0.9M416.20,197.80h1.6M544.40,197.80h-1.6M416.20,201.95h0.9M544.40,201.95h-0.9" stroke="#a8a8a8" stroke-width="0.5" fill="none"/>
<text x="421.70" y="210.20" class="tl" text-anchor="middle">1.0</text>
<text x="451.85" y="210.20" class="tl" text-anchor="middle">1.5</text>
<text x="482.00" y="210.20" class="tl" text-anchor="middle">2.0</text>
<text x="512.15" y="210.20" class="tl" text-anchor="middle">2.5</text>
<text x="542.30" y="210.20" class="tl" text-anchor="middle">3.0</text>
<text x="480.50" y="217.20" class="al" text-anchor="middle">No. of iterations (n)</text>
<text x="414.70" y="133.50" class="tl" text-anchor="end">1</text>
<text x="414.70" y="150.00" class="tl" text-anchor="end">10<tspan class="ex" dy="-1.4">&#8722;4</tspan></text>
<text x="414.70" y="166.60" class="tl" text-anchor="end">10<tspan class="ex" dy="-1.4">&#8722;8</tspan></text>
<text x="414.70" y="183.30" class="tl" text-anchor="end">10<tspan class="ex" dy="-1.4">&#8722;12</tspan></text>
<text x="414.70" y="200.00" class="tl" text-anchor="end">10<tspan class="ex" dy="-1.4">&#8722;16</tspan></text>
<text transform="translate(401.80,166.45) rotate(-90)" class="yl" text-anchor="middle">Log of |x<tspan class="sb" dy="0.9">n+1</tspan><tspan dy="-0.9">&#8722;x</tspan><tspan class="sb" dy="0.9">n</tspan><tspan dy="-0.9">|</tspan></text>
<path d="M421.70,131.70 L482.00,133.30 L542.30,143.60" stroke="#5E81B5" stroke-width="1.0" fill="none" stroke-linejoin="round"/>
<path d="M421.70,131.70 L482.00,134.60 L542.30,156.70" stroke="#E19C24" stroke-width="1.0" fill="none" stroke-linejoin="round"/>
<path d="M421.70,131.70 L482.00,136.80 L542.30,170.30" stroke="#8FB032" stroke-width="1.0" fill="none" stroke-linejoin="round"/>
<path d="M421.70,131.70 L482.00,136.40 L542.30,162.60" stroke="#EB6235" stroke-width="1.0" fill="none" stroke-linejoin="round"/>
<path d="M421.70,131.70 L482.00,133.20 L542.30,143.40" stroke="#8778B3" stroke-width="1.0" fill="none" stroke-linejoin="round"/>
<path d="M421.70,131.70 L482.00,131.50 L542.30,142.20" stroke="#C56E1A" stroke-width="1.0" fill="none" stroke-linejoin="round"/>
<path d="M421.70,131.70 L482.00,138.80 L542.30,180.10" stroke="#5D9EC7" stroke-width="1.0" fill="none" stroke-linejoin="round"/>
<path d="M421.70,131.70 L482.00,140.00 L542.30,199.00" stroke="#A5609D" stroke-width="1.0" fill="none" stroke-linejoin="round"/>
<circle cx="421.70" cy="131.70" r="1.30" fill="#5E81B5" stroke="none" stroke-width="0.00"/>
<circle cx="482.00" cy="133.30" r="1.30" fill="#5E81B5" stroke="none" stroke-width="0.00"/>
<circle cx="542.30" cy="143.60" r="1.30" fill="#5E81B5" stroke="none" stroke-width="0.00"/>
<rect x="420.25" y="130.25" width="2.90" height="2.90" fill="#E19C24" stroke="none" stroke-width="0.00"/>
<rect x="480.55" y="133.15" width="2.90" height="2.90" fill="#E19C24" stroke="none" stroke-width="0.00"/>
<rect x="540.85" y="155.25" width="2.90" height="2.90" fill="#E19C24" stroke="none" stroke-width="0.00"/>
<polygon points="421.70,129.80 423.60,131.70 421.70,133.60 419.80,131.70" fill="#8FB032" stroke="none" stroke-width="0.00"/>
<polygon points="482.00,134.90 483.90,136.80 482.00,138.70 480.10,136.80" fill="#8FB032" stroke="none" stroke-width="0.00"/>
<polygon points="542.30,168.40 544.20,170.30 542.30,172.20 540.40,170.30" fill="#8FB032" stroke="none" stroke-width="0.00"/>
<polygon points="421.70,129.80 423.60,133.12 419.80,133.12" fill="#EB6235" stroke="none" stroke-width="0.00"/>
<polygon points="482.00,134.50 483.90,137.83 480.10,137.83" fill="#EB6235" stroke="none" stroke-width="0.00"/>
<polygon points="542.30,160.70 544.20,164.03 540.40,164.03" fill="#EB6235" stroke="none" stroke-width="0.00"/>
<polygon points="421.70,133.60 423.60,130.27 419.80,130.27" fill="#8778B3" stroke="none" stroke-width="0.00"/>
<polygon points="482.00,135.10 483.90,131.77 480.10,131.77" fill="#8778B3" stroke="none" stroke-width="0.00"/>
<polygon points="542.30,145.30 544.20,141.97 540.40,141.97" fill="#8778B3" stroke="none" stroke-width="0.00"/>
<circle cx="421.70" cy="131.70" r="1.35" fill="#d39253" stroke="#C56E1A" stroke-width="0.80"/>
<circle cx="482.00" cy="131.50" r="1.35" fill="#d39253" stroke="#C56E1A" stroke-width="0.80"/>
<circle cx="542.30" cy="142.20" r="1.35" fill="#d39253" stroke="#C56E1A" stroke-width="0.80"/>
<rect x="420.40" y="130.40" width="2.60" height="2.60" fill="#85b6d5" stroke="#5D9EC7" stroke-width="0.80"/>
<rect x="480.70" y="137.50" width="2.60" height="2.60" fill="#85b6d5" stroke="#5D9EC7" stroke-width="0.80"/>
<rect x="541.00" y="178.80" width="2.60" height="2.60" fill="#85b6d5" stroke="#5D9EC7" stroke-width="0.80"/>
<polygon points="421.70,130.00 423.40,131.70 421.70,133.40 420.00,131.70" fill="#ffcf3f" stroke="#FFBF00" stroke-width="0.80"/>
<polygon points="482.00,138.30 483.70,140.00 482.00,141.70 480.30,140.00" fill="#ffcf3f" stroke="#FFBF00" stroke-width="0.80"/>
<polygon points="542.30,197.30 544.00,199.00 542.30,200.70 540.60,199.00" fill="#ffcf3f" stroke="#FFBF00" stroke-width="0.80"/>
<polygon points="421.70,130.00 423.40,132.97 420.00,132.97" fill="#bb87b5" stroke="#A5609D" stroke-width="0.80"/>
<polygon points="482.00,138.30 483.70,141.28 480.30,141.28" fill="#bb87b5" stroke="#A5609D" stroke-width="0.80"/>
<polygon points="542.30,197.30 544.00,200.28 540.60,200.28" fill="#bb87b5" stroke="#A5609D" stroke-width="0.80"/>
<path d="M423.40,146.40h8.6" stroke="#5E81B5" stroke-width="1"/>
<circle cx="427.70" cy="146.40" r="1.37" fill="#5E81B5" stroke="none" stroke-width="0.00"/>
<text x="433.50" y="147.75" class="lg">VKM</text>
<path d="M423.40,153.32h8.6" stroke="#E19C24" stroke-width="1"/>
<rect x="426.18" y="151.80" width="3.04" height="3.04" fill="#E19C24" stroke="none" stroke-width="0.00"/>
<text x="433.50" y="154.67" class="lg">XZM</text>
<path d="M423.40,160.24h8.6" stroke="#8FB032" stroke-width="1"/>
<polygon points="427.70,158.25 429.69,160.24 427.70,162.24 425.70,160.24" fill="#8FB032" stroke="none" stroke-width="0.00"/>
<text x="433.50" y="161.59" class="lg">CPDM</text>
<path d="M423.40,167.16h8.6" stroke="#EB6235" stroke-width="1"/>
<polygon points="427.70,165.16 429.69,168.66 425.70,168.66" fill="#EB6235" stroke="none" stroke-width="0.00"/>
<text x="433.50" y="168.51" class="lg">SAM</text>
<path d="M423.40,174.08h8.6" stroke="#8778B3" stroke-width="1"/>
<polygon points="427.70,176.08 429.69,172.58 425.70,172.58" fill="#8778B3" stroke="none" stroke-width="0.00"/>
<text x="433.50" y="175.43" class="lg">SAJM</text>
<path d="M423.40,181.00h8.6" stroke="#C56E1A" stroke-width="1"/>
<circle cx="427.70" cy="181.00" r="1.42" fill="#d39253" stroke="#C56E1A" stroke-width="0.84"/>
<text x="433.50" y="182.35" class="lg">GKWM</text>
<path d="M423.40,187.92h8.6" stroke="#5D9EC7" stroke-width="1"/>
<rect x="426.33" y="186.56" width="2.73" height="2.73" fill="#85b6d5" stroke="#5D9EC7" stroke-width="0.84"/>
<text x="433.50" y="189.27" class="lg">PFM</text>
<path d="M423.40,194.84h8.6" stroke="#FFBF00" stroke-width="1"/>
<polygon points="427.70,193.06 429.49,194.84 427.70,196.62 425.91,194.84" fill="#ffcf3f" stroke="#FFBF00" stroke-width="0.84"/>
<text x="433.50" y="196.19" class="lg">PFWM1</text>
<path d="M423.40,201.76h8.6" stroke="#A5609D" stroke-width="1"/>
<polygon points="427.70,199.97 429.49,203.10 425.91,203.10" fill="#bb87b5" stroke="#A5609D" stroke-width="0.84"/>
<text x="433.50" y="203.11" class="lg">PFWM2</text>
<g class="cap"><text x="464.83" y="237.40">(<tspan font-weight="bold">f</tspan>)</text><text transform="translate(477.87,237.40) scale(1.18,1)" class="om">&#937;</text><text x="486.77" y="239.00" class="cs">6</text><text x="491.47" y="237.40">(</text><text x="495.17" y="237.40" font-style="italic">s</text><text x="500.07" y="237.40">)</text></g>
</svg>
</body></html>
